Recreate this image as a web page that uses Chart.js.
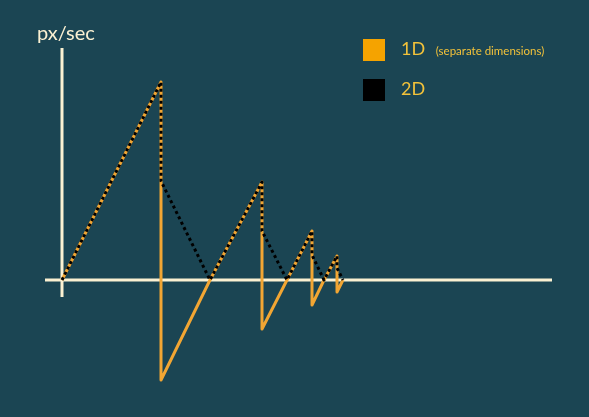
<!DOCTYPE html>
<html>
<head>
<meta charset="utf-8">
<script src="https://cdn.jsdelivr.net/npm/chart.js@4"></script>
<style>
  html, body { margin: 0; padding: 0; background: #1b4553; }
  #wrap { position: relative; width: 589px; height: 417px; }
  canvas { position: absolute; left: 0; top: 0; }
  .lbl { position: absolute; font-family: Lato, "Open Sans", sans-serif; white-space: nowrap; }
  .sw { position: absolute; width: 22px; height: 22px; }
</style>
</head>
<body>
<div id="wrap">
  <canvas id="speedChart" width="589" height="417"></canvas>
  <div class="lbl" style="left:37px;top:20px;font-size:20px;color:#fbf1d2;">px/sec</div>
  <div class="sw" style="left:363px;top:39px;background:#f5a300;"></div>
  <div class="lbl" style="left:401px;top:37px;font-size:18px;color:#f2c23a;">1D <span style="font-size:11.5px;margin-left:6px;">(separate dimensions)</span></div>
  <div class="sw" style="left:363px;top:79px;background:#000;"></div>
  <div class="lbl" style="left:401px;top:77px;font-size:18px;color:#f2c23a;">2D</div>
</div>
<script>
// time (px from origin) and speed
const times = [0, 99, 99, 148, 200, 200, 225, 250, 250, 262, 275, 275, 281];
const speed1D = [0, 198, -100, 0, 98, -49, 0, 49, -25, 0, 24, -12, 0];
const speed2D = [0, 198, 99, 0, 98, 49, 0, 49, 25, 0, 24, 12, 0];

const toPoints = (vals) => vals.map((v, i) => ({ x: times[i], y: v }));

// cream axes crossing at the origin, overshooting a little
const axesPlugin = {
    id: 'axesLines',
    beforeDatasetsDraw(chart) {
        const { ctx, scales: { x, y } } = chart;
        ctx.save();
        ctx.strokeStyle = '#fbf1d2';
        ctx.lineWidth = 3;
        ctx.beginPath();
        ctx.moveTo(x.getPixelForValue(-17), y.getPixelForValue(0));
        ctx.lineTo(x.getPixelForValue(490), y.getPixelForValue(0));
        ctx.moveTo(x.getPixelForValue(0), y.getPixelForValue(232));
        ctx.lineTo(x.getPixelForValue(0), y.getPixelForValue(-17));
        ctx.stroke();
        ctx.restore();
    }
};

const ctx = document.getElementById('speedChart').getContext('2d');
const speedChart = new Chart(ctx, {
    type: 'line',
    data: {
        datasets: [
            {
                label: '2D',
                data: toPoints(speed2D),
                borderColor: '#000000',
                borderWidth: 3,
                borderDash: [3, 3],
                borderJoinStyle: 'round',
                pointRadius: 0,
                tension: 0,
                order: 0
            },
            {
                label: '1D',
                data: toPoints(speed1D),
                borderColor: '#f2a633',
                borderWidth: 3,
                borderJoinStyle: 'round',
                pointRadius: 0,
                tension: 0,
                order: 1
            }
        ]
    },
    options: {
        responsive: false,
        animation: false,
        layout: { padding: { left: 45, right: 37, top: 48, bottom: 27 } },
        plugins: { legend: { display: false }, tooltip: { enabled: false } },
        scales: {
            x: { type: 'linear', min: -17, max: 490, display: false },
            y: { min: -110, max: 232, display: false }
        }
    },
    plugins: [axesPlugin]
});
</script>
</body>
</html>
